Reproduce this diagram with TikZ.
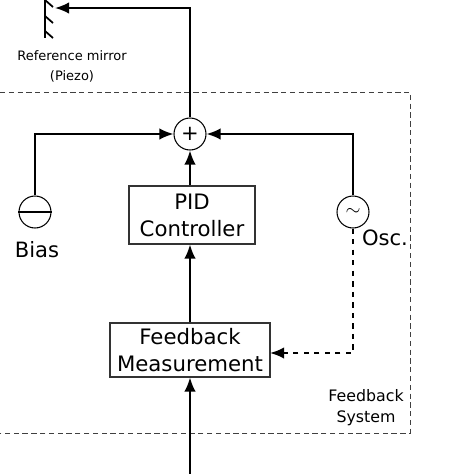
\documentclass[tikz,border=0pt]{standalone}
\usepackage{fontspec}
\setmainfont{DejaVu Sans}
\usetikzlibrary{arrows.meta}
\tikzset{
  block/.style={draw=black!80,line width=0.6pt,minimum width=#1,align=center,inner sep=0pt,font=\fontsize{12.1}{15.3}\selectfont},
  source/.style={draw,circle,line width=0.6pt,minimum size=0.64cm,inner sep=0pt},
  wire/.style={line width=1pt,-{Latex[length=8pt,width=6.5pt]}},
  hatch/.style={line width=1pt},
  frame/.style={densely dashed,line width=0.4pt,black!75},
}
\begin{document}
\begin{tikzpicture}[x=0.02cm,y=-0.02cm]
\useasboundingbox (0,0) rectangle (474,474);
% feedback system frame
\draw[frame] (0,92) -- (410,92) -- (410,433) -- (0,433);
% blocks
\node[source] (sum) at (190,134) {\fontsize{12}{12}\selectfont +};
\node[source] (bias) at (35,212) {};
\node[source] (osc) at (353,212) {\fontsize{11}{11}\selectfont $\sim$};
\node[block=2.52cm,minimum height=1.16cm] (pid) at (192,215) {PID\\Controller};
\node[block=3.2cm,minimum height=1.08cm] (meas) at (190,350) {Feedback\\Measurement};
\draw[line width=0.6pt] (bias.west) -- (bias.east);
% mirror
\coordinate (mirrortop) at (45,0);
\coordinate (mirrorbot) at (45,38);
\coordinate (mirrorhit) at (55,8);
\coordinate (sumup) at (190,8);
\draw[hatch] (mirrortop) -- (mirrorbot);
\foreach \y in {0,16,31} \draw[hatch] (45,\y) -- (53,\y+7);
% labels
\node[font=\fontsize{7.4}{11.3}\selectfont,align=center] (mirrorlabel) at (72,66) {Reference mirror\\(Piezo)};
\node[font=\fontsize{12}{14}\selectfont] (biaslabel) at (37,250) {Bias};
\node[font=\fontsize{12}{14}\selectfont] (osclabel) at (385,238) {Osc.};
\node[font=\fontsize{9}{12}\selectfont,align=center] (fblabel) at (366,408) {Feedback\\System};
% connectors
\coordinate (input) at (190,474);
\coordinate (measin) at (270,353);
\draw[wire] (sum.north) -- (sumup) -- (mirrorhit);
\draw[wire] (bias.north) |- (sum.west);
\draw[wire] (osc.north) |- (sum.east);
\draw[wire] (pid.north -| sum) -- (sum.south);
\draw[wire] (meas.north) -- (meas.north |- pid.south);
\draw[wire] (input) -- (meas.south);
\draw[wire,line width=1.2pt,dashed] (osc.south) |- (measin);
\end{tikzpicture}
\end{document}
